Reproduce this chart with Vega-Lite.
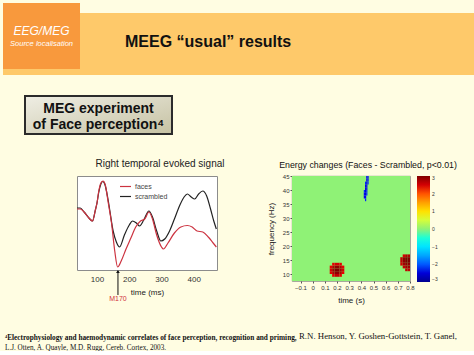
{
  "$schema": "https://vega.github.io/schema/vega-lite/v6.json",
  "background": "#fffde2",
  "padding": {"left": 3, "top": 3, "right": 0, "bottom": 0},
  "config": {
    "view": {"stroke": null},
    "font": "Liberation Sans",
    "title": {"font": "Liberation Sans"},
    "axis": {"labelFont": "Liberation Sans", "titleFont": "Liberation Sans"},
    "legend": {"labelFont": "Liberation Sans"}
  },
  "bounds": "full",
  "spacing": 0,
  "vconcat": [
    {
      "bounds": "full",
      "spacing": 0,
      "hconcat": [
        {
          "bounds": "flush",
          "spacing": 0,
          "vconcat": [
            {
              "width": 77, "height": 66,
              "view": {"fill": "#f8993d", "stroke": null},
              "title": {"text": "EEG/MEG", "subtitle": "Source localisation", "fontSize": 12, "fontStyle": "italic", "fontWeight": "normal", "color": "#ffffff", "subtitleColor": "#ffffff", "subtitleFontSize": 7.5, "subtitleFontStyle": "italic", "subtitlePadding": 2, "anchor": "middle", "frame": "group", "offset": 0, "dy": 45},
              "data": {"values": []},
              "mark": {"type": "point", "opacity": 0},
              "encoding": {}
            },
            {
              "width": 77, "height": 6,
              "view": {"fill": "#fec96a", "stroke": null},
              "data": {"values": []},
              "mark": {"type": "point", "opacity": 0},
              "encoding": {}
            }
          ]
        },
        {
          "bounds": "flush",
          "spacing": 0,
          "vconcat": [
            {
              "width": 394, "height": 10,
              "data": {"values": []},
              "mark": {"type": "point", "opacity": 0},
              "encoding": {}
            },
            {
              "width": 394, "height": 62,
              "view": {"fill": "#fec96a", "stroke": null},
              "title": {"text": "MEEG “usual” results", "fontSize": 16, "fontWeight": "bold", "color": "#111111", "anchor": "start", "frame": "group", "offset": 0, "dx": 45, "dy": 37},
              "data": {"values": []},
              "mark": {"type": "point", "opacity": 0},
              "encoding": {}
            }
          ]
        }
      ]
    },
    {
      "width": 10, "height": 20,
      "data": {"values": []},
      "mark": {"type": "point", "opacity": 0},
      "encoding": {}
    },
    {
      "bounds": "flush",
      "spacing": 0,
      "hconcat": [
        {
          "width": 22, "height": 38,
          "data": {"values": []},
          "mark": {"type": "point", "opacity": 0},
          "encoding": {}
        },
        {
          "width": 147, "height": 38,
          "view": {"fill": {"gradient": "linear", "x1": 0, "y1": 0, "x2": 1, "y2": 1, "stops": [{"offset": 0, "color": "#efeee4"}, {"offset": 1, "color": "#c6c2a3"}]}, "stroke": "#2b2b2b", "strokeWidth": 2},
          "title": {"text": ["MEG experiment", "of Face perception⁴"], "fontSize": 14, "fontWeight": "bold", "lineHeight": 16, "color": "#111111", "anchor": "middle", "frame": "group", "offset": 0, "dy": 36},
          "data": {"values": []},
          "mark": {"type": "point", "opacity": 0},
          "encoding": {}
        }
      ]
    },
    {
      "width": 10, "height": 23,
      "data": {"values": []},
      "mark": {"type": "point", "opacity": 0},
      "encoding": {}
    },
    {
      "bounds": "flush",
      "spacing": 0,
      "hconcat": [
        {
          "width": 74, "height": 94,
          "data": {"values": []},
          "mark": {"type": "point", "opacity": 0},
          "encoding": {}
        },
        {
          "width": 140, "height": 94,
          "view": {"stroke": "#8c8c8c", "fill": "#ffffff", "strokeWidth": 1},
          "title": {"text": "Right temporal evoked signal", "fontSize": 10, "fontWeight": "normal", "color": "#222222", "offset": 7, "dx": 13},
          "layer": [
            {
              "data": {"values": [
                {"time": 38, "amp": 15, "cond": "scrambled"},
                {"time": 48, "amp": 15, "cond": "scrambled"},
                {"time": 60, "amp": 11, "cond": "scrambled"},
                {"time": 75, "amp": 5, "cond": "scrambled"},
                {"time": 86, "amp": 2, "cond": "scrambled"},
                {"time": 95, "amp": 13, "cond": "scrambled"},
                {"time": 100, "amp": 20, "cond": "scrambled"},
                {"time": 105, "amp": 30, "cond": "scrambled"},
                {"time": 112, "amp": 39, "cond": "scrambled"},
                {"time": 118, "amp": 41.5, "cond": "scrambled"},
                {"time": 125, "amp": 38, "cond": "scrambled"},
                {"time": 135, "amp": 22, "cond": "scrambled"},
                {"time": 150, "amp": -8, "cond": "scrambled"},
                {"time": 160, "amp": -19, "cond": "scrambled"},
                {"time": 170, "amp": -24, "cond": "scrambled"},
                {"time": 185, "amp": -12, "cond": "scrambled"},
                {"time": 200, "amp": -2, "cond": "scrambled"},
                {"time": 210, "amp": 2, "cond": "scrambled"},
                {"time": 222, "amp": 0, "cond": "scrambled"},
                {"time": 232, "amp": -3, "cond": "scrambled"},
                {"time": 245, "amp": 3, "cond": "scrambled"},
                {"time": 261, "amp": 12, "cond": "scrambled"},
                {"time": 272, "amp": 6, "cond": "scrambled"},
                {"time": 285, "amp": -8, "cond": "scrambled"},
                {"time": 298, "amp": -18, "cond": "scrambled"},
                {"time": 310, "amp": -16, "cond": "scrambled"},
                {"time": 325, "amp": -8, "cond": "scrambled"},
                {"time": 340, "amp": 4, "cond": "scrambled"},
                {"time": 357, "amp": 18, "cond": "scrambled"},
                {"time": 370, "amp": 26, "cond": "scrambled"},
                {"time": 380, "amp": 29, "cond": "scrambled"},
                {"time": 392, "amp": 26, "cond": "scrambled"},
                {"time": 403, "amp": 24, "cond": "scrambled"},
                {"time": 415, "amp": 29, "cond": "scrambled"},
                {"time": 428, "amp": 32, "cond": "scrambled"},
                {"time": 440, "amp": 27, "cond": "scrambled"},
                {"time": 452, "amp": 14, "cond": "scrambled"},
                {"time": 462, "amp": 2, "cond": "scrambled"},
                {"time": 470, "amp": -6, "cond": "scrambled"},
                {"time": 38, "amp": 14, "cond": "faces"},
                {"time": 48, "amp": 14, "cond": "faces"},
                {"time": 60, "amp": 11, "cond": "faces"},
                {"time": 75, "amp": 5, "cond": "faces"},
                {"time": 86, "amp": 2, "cond": "faces"},
                {"time": 95, "amp": 13, "cond": "faces"},
                {"time": 100, "amp": 20, "cond": "faces"},
                {"time": 105, "amp": 31, "cond": "faces"},
                {"time": 112, "amp": 40, "cond": "faces"},
                {"time": 119, "amp": 42, "cond": "faces"},
                {"time": 125, "amp": 39, "cond": "faces"},
                {"time": 135, "amp": 20, "cond": "faces"},
                {"time": 145, "amp": 0, "cond": "faces"},
                {"time": 155, "amp": -28, "cond": "faces"},
                {"time": 164, "amp": -44, "cond": "faces"},
                {"time": 175, "amp": -38, "cond": "faces"},
                {"time": 190, "amp": -26, "cond": "faces"},
                {"time": 205, "amp": -15, "cond": "faces"},
                {"time": 220, "amp": -4, "cond": "faces"},
                {"time": 235, "amp": 2, "cond": "faces"},
                {"time": 248, "amp": 4, "cond": "faces"},
                {"time": 261, "amp": 11, "cond": "faces"},
                {"time": 272, "amp": 4, "cond": "faces"},
                {"time": 285, "amp": -12, "cond": "faces"},
                {"time": 300, "amp": -24, "cond": "faces"},
                {"time": 306, "amp": -26, "cond": "faces"},
                {"time": 320, "amp": -20, "cond": "faces"},
                {"time": 340, "amp": -10, "cond": "faces"},
                {"time": 360, "amp": -4, "cond": "faces"},
                {"time": 380, "amp": -2.5, "cond": "faces"},
                {"time": 395, "amp": -4, "cond": "faces"},
                {"time": 410, "amp": -8, "cond": "faces"},
                {"time": 428, "amp": -9, "cond": "faces"},
                {"time": 445, "amp": -14, "cond": "faces"},
                {"time": 460, "amp": -20, "cond": "faces"},
                {"time": 470, "amp": -24, "cond": "faces"}
              ]},
              "mark": {"type": "line", "interpolate": "monotone", "strokeWidth": 1.2, "clip": true},
              "encoding": {
                "x": {"field": "time", "type": "quantitative", "scale": {"domain": [38, 472], "nice": false, "zero": false},
                  "axis": {"values": [100, 200, 300, 400], "ticks": false, "domain": false, "grid": false, "labelFontSize": 8, "labelColor": "#333333", "labelPadding": 5, "title": "time (ms)", "titleFontSize": 8, "titleFontWeight": "normal", "titleColor": "#222222", "titlePadding": 5}},
                "y": {"field": "amp", "type": "quantitative", "scale": {"domain": [-47, 47], "nice": false, "zero": false}, "axis": null},
                "color": {"field": "cond", "type": "nominal", "scale": {"domain": ["faces", "scrambled"], "range": ["#cc3340", "#222222"]},
                  "legend": {"orient": "none", "legendX": 42, "legendY": 4, "title": null, "labelFontSize": 7, "labelColor": "#444444", "symbolType": "stroke", "symbolStrokeWidth": 1.2, "symbolSize": 121, "rowPadding": 0, "labelOffset": 3, "padding": 0}}
              }
            },
            {
              "data": {"values": [{"time": 165, "label": "M170"}]},
              "layer": [
                {
                  "mark": {"type": "rule", "color": "#111111", "strokeWidth": 1, "clip": false},
                  "encoding": {"x": {"field": "time", "type": "quantitative"}, "y": {"datum": -48}, "y2": {"datum": -72}}
                },
                {
                  "mark": {"type": "point", "shape": "triangle-up", "filled": true, "color": "#111111", "size": 14, "opacity": 1, "clip": false},
                  "encoding": {"x": {"field": "time", "type": "quantitative"}, "y": {"datum": -48.5}}
                },
                {
                  "mark": {"type": "text", "color": "#d0303a", "fontSize": 7, "baseline": "middle", "clip": false},
                  "encoding": {"x": {"field": "time", "type": "quantitative"}, "y": {"datum": -76}, "text": {"field": "label"}}
                }
              ]
            }
          ]
        },
        {
          "width": 75, "height": 94,
          "data": {"values": []},
          "mark": {"type": "point", "opacity": 0},
          "encoding": {}
        },
        {
          "width": 118, "height": 105,
          "view": {"stroke": "#777777", "strokeWidth": 0.8},
          "title": {"text": "Energy changes (Faces - Scrambled, p<0.01)", "fontSize": 8.8, "fontWeight": "normal", "color": "#111111", "offset": 3, "dx": 17},
          "data": {"values": [
            {"t0": -0.17, "t1": 0.8, "f0": 7.5, "f1": 45, "v": 0},
            {"t0": 0.16, "t1": 0.18, "f0": 9, "f1": 10, "v": 2.4},
            {"t0": 0.18, "t1": 0.2, "f0": 9, "f1": 10, "v": 2.6},
            {"t0": 0.2, "t1": 0.22, "f0": 9, "f1": 10, "v": 2.6},
            {"t0": 0.22, "t1": 0.24, "f0": 9, "f1": 10, "v": 2.4},
            {"t0": 0.14, "t1": 0.16, "f0": 10, "f1": 11, "v": 2.4},
            {"t0": 0.16, "t1": 0.18, "f0": 10, "f1": 11, "v": 2.7},
            {"t0": 0.18, "t1": 0.2, "f0": 10, "f1": 11, "v": 2.9},
            {"t0": 0.2, "t1": 0.22, "f0": 10, "f1": 11, "v": 2.9},
            {"t0": 0.22, "t1": 0.24, "f0": 10, "f1": 11, "v": 2.7},
            {"t0": 0.24, "t1": 0.26, "f0": 10, "f1": 11, "v": 2.4},
            {"t0": 0.14, "t1": 0.16, "f0": 11, "f1": 12, "v": 2.5},
            {"t0": 0.16, "t1": 0.18, "f0": 11, "f1": 12, "v": 2.8},
            {"t0": 0.18, "t1": 0.2, "f0": 11, "f1": 12, "v": 3},
            {"t0": 0.2, "t1": 0.22, "f0": 11, "f1": 12, "v": 3},
            {"t0": 0.22, "t1": 0.24, "f0": 11, "f1": 12, "v": 2.8},
            {"t0": 0.24, "t1": 0.26, "f0": 11, "f1": 12, "v": 2.5},
            {"t0": 0.14, "t1": 0.16, "f0": 12, "f1": 13, "v": 2.4},
            {"t0": 0.16, "t1": 0.18, "f0": 12, "f1": 13, "v": 2.7},
            {"t0": 0.18, "t1": 0.2, "f0": 12, "f1": 13, "v": 2.9},
            {"t0": 0.2, "t1": 0.22, "f0": 12, "f1": 13, "v": 2.9},
            {"t0": 0.22, "t1": 0.24, "f0": 12, "f1": 13, "v": 2.7},
            {"t0": 0.24, "t1": 0.26, "f0": 12, "f1": 13, "v": 2.4},
            {"t0": 0.16, "t1": 0.18, "f0": 13, "f1": 14, "v": 2.4},
            {"t0": 0.18, "t1": 0.2, "f0": 13, "f1": 14, "v": 2.5},
            {"t0": 0.2, "t1": 0.22, "f0": 13, "f1": 14, "v": 2.5},
            {"t0": 0.22, "t1": 0.24, "f0": 13, "f1": 14, "v": 2.4},
            {"t0": 0.74, "t1": 0.76, "f0": 16, "f1": 17, "v": 2.5},
            {"t0": 0.76, "t1": 0.78, "f0": 16, "f1": 17, "v": 2.7},
            {"t0": 0.78, "t1": 0.8, "f0": 16, "f1": 17, "v": 2.7},
            {"t0": 0.72, "t1": 0.74, "f0": 15, "f1": 16, "v": 2.6},
            {"t0": 0.74, "t1": 0.76, "f0": 15, "f1": 16, "v": 2.9},
            {"t0": 0.76, "t1": 0.78, "f0": 15, "f1": 16, "v": 3},
            {"t0": 0.78, "t1": 0.8, "f0": 15, "f1": 16, "v": 3},
            {"t0": 0.72, "t1": 0.74, "f0": 14, "f1": 15, "v": 2.6},
            {"t0": 0.74, "t1": 0.76, "f0": 14, "f1": 15, "v": 2.9},
            {"t0": 0.76, "t1": 0.78, "f0": 14, "f1": 15, "v": 3},
            {"t0": 0.78, "t1": 0.8, "f0": 14, "f1": 15, "v": 3},
            {"t0": 0.72, "t1": 0.74, "f0": 13, "f1": 14, "v": 2.5},
            {"t0": 0.74, "t1": 0.76, "f0": 13, "f1": 14, "v": 2.8},
            {"t0": 0.76, "t1": 0.78, "f0": 13, "f1": 14, "v": 2.9},
            {"t0": 0.78, "t1": 0.8, "f0": 13, "f1": 14, "v": 2.9},
            {"t0": 0.74, "t1": 0.76, "f0": 12, "f1": 13, "v": 2.6},
            {"t0": 0.76, "t1": 0.78, "f0": 12, "f1": 13, "v": 2.8},
            {"t0": 0.78, "t1": 0.8, "f0": 12, "f1": 13, "v": 2.8},
            {"t0": 0.76, "t1": 0.78, "f0": 11, "f1": 12, "v": 2.6},
            {"t0": 0.78, "t1": 0.8, "f0": 11, "f1": 12, "v": 2.6},
            {"t0": 0.44, "t1": 0.45, "f0": 44, "f1": 45, "v": -2.3},
            {"t0": 0.45, "t1": 0.46, "f0": 44, "f1": 45, "v": -2.3},
            {"t0": 0.44, "t1": 0.45, "f0": 43, "f1": 44, "v": -2.4},
            {"t0": 0.45, "t1": 0.46, "f0": 43, "f1": 44, "v": -2.3},
            {"t0": 0.43, "t1": 0.44, "f0": 42, "f1": 43, "v": -2.2},
            {"t0": 0.44, "t1": 0.45, "f0": 42, "f1": 43, "v": -2.5},
            {"t0": 0.45, "t1": 0.46, "f0": 42, "f1": 43, "v": -2.2},
            {"t0": 0.43, "t1": 0.44, "f0": 41, "f1": 42, "v": -2.4},
            {"t0": 0.44, "t1": 0.45, "f0": 41, "f1": 42, "v": -2.4},
            {"t0": 0.43, "t1": 0.44, "f0": 40, "f1": 41, "v": -2.4},
            {"t0": 0.44, "t1": 0.45, "f0": 40, "f1": 41, "v": -2.4},
            {"t0": 0.42, "t1": 0.43, "f0": 39, "f1": 40, "v": -2.2},
            {"t0": 0.43, "t1": 0.44, "f0": 39, "f1": 40, "v": -2.5},
            {"t0": 0.44, "t1": 0.45, "f0": 39, "f1": 40, "v": -2.2},
            {"t0": 0.42, "t1": 0.43, "f0": 38, "f1": 39, "v": -2.3},
            {"t0": 0.43, "t1": 0.44, "f0": 38, "f1": 39, "v": -2.5},
            {"t0": 0.44, "t1": 0.45, "f0": 38, "f1": 39, "v": -2.2},
            {"t0": 0.42, "t1": 0.43, "f0": 37, "f1": 38, "v": -2.3},
            {"t0": 0.43, "t1": 0.44, "f0": 37, "f1": 38, "v": -2.3},
            {"t0": 0.43, "t1": 0.44, "f0": 36, "f1": 37, "v": -2.2}
          ]},
          "mark": {"type": "rect"},
          "encoding": {
            "x": {"field": "t0", "type": "quantitative", "scale": {"domain": [-0.17, 0.8], "nice": false, "zero": false},
              "axis": {"values": [-0.1, 0, 0.1, 0.2, 0.3, 0.4, 0.5, 0.6, 0.7, 0.8], "format": ".1~f", "labelOverlap": false, "labelFlush": false, "grid": false, "domain": false, "tickSize": 2, "tickColor": "#555555", "labelFontSize": 6, "labelColor": "#333333", "labelPadding": 1, "title": "time (s)", "titleFontSize": 8, "titleFontWeight": "normal", "titleColor": "#222222", "titlePadding": 6}},
            "x2": {"field": "t1"},
            "y": {"field": "f0", "type": "quantitative", "scale": {"domain": [7.5, 45], "nice": false, "zero": false},
              "axis": {"values": [10, 15, 20, 25, 30, 35, 40, 45], "labelOverlap": false, "labelFlush": false, "grid": false, "domain": false, "tickSize": 2, "tickColor": "#555555", "labelFontSize": 6, "labelColor": "#333333", "labelPadding": 1, "title": "frequency (Hz)", "titleFontSize": 8, "titleFontWeight": "normal", "titleColor": "#222222", "titlePadding": 7}},
            "y2": {"field": "f1"},
            "color": {"field": "v", "type": "quantitative",
              "scale": {"domain": [-3, -2.25, -0.75, 0, 0.75, 2.25, 3], "range": ["#00008f", "#0000ff", "#00ffff", "#8ff276", "#ffff00", "#ff0000", "#800000"]},
              "legend": {"title": null, "orient": "right", "offset": 7, "direction": "vertical", "gradientLength": 106, "gradientThickness": 13, "gradientStrokeWidth": 0, "labelFontSize": 5, "labelColor": "#333333", "labelOffset": 2, "labelOverlap": false, "values": [-3, -2, -1, 0, 1, 2, 3], "padding": 0}}
          }
        }
      ]
    },
    {
      "width": 10, "height": 26,
      "data": {"values": []},
      "mark": {"type": "point", "opacity": 0},
      "encoding": {}
    },
    {
      "bounds": "flush",
      "spacing": 0,
      "hconcat": [
        {
          "width": 2, "height": 1,
          "data": {"values": []},
          "mark": {"type": "point", "opacity": 0},
          "encoding": {}
        },
        {
          "width": 294, "height": 1,
          "title": {"text": "⁴Electrophysiology and haemodynamic correlates of face perception, recognition and priming,", "subtitle": "L.J. Otten, A. Quayle, M.D. Rugg, Cereb. Cortex, 2003.", "font": "Liberation Serif", "subtitleFont": "Liberation Serif", "fontSize": 7.3, "subtitleFontSize": 7.2, "fontWeight": "bold", "subtitleFontWeight": "normal", "color": "#111111", "subtitleColor": "#111111", "subtitlePadding": 3, "anchor": "start", "frame": "group", "offset": 0, "dy": 19},
          "data": {"values": []},
          "mark": {"type": "point", "opacity": 0},
          "encoding": {}
        },
        {
          "width": 170, "height": 1,
          "title": {"text": "R.N. Henson, Y. Goshen-Gottstein, T. Ganel,", "font": "Liberation Serif", "fontSize": 8.8, "fontWeight": "normal", "color": "#111111", "anchor": "start", "frame": "group", "offset": 0, "dy": 8.5},
          "data": {"values": []},
          "mark": {"type": "point", "opacity": 0},
          "encoding": {}
        }
      ]
    }
  ]
}
